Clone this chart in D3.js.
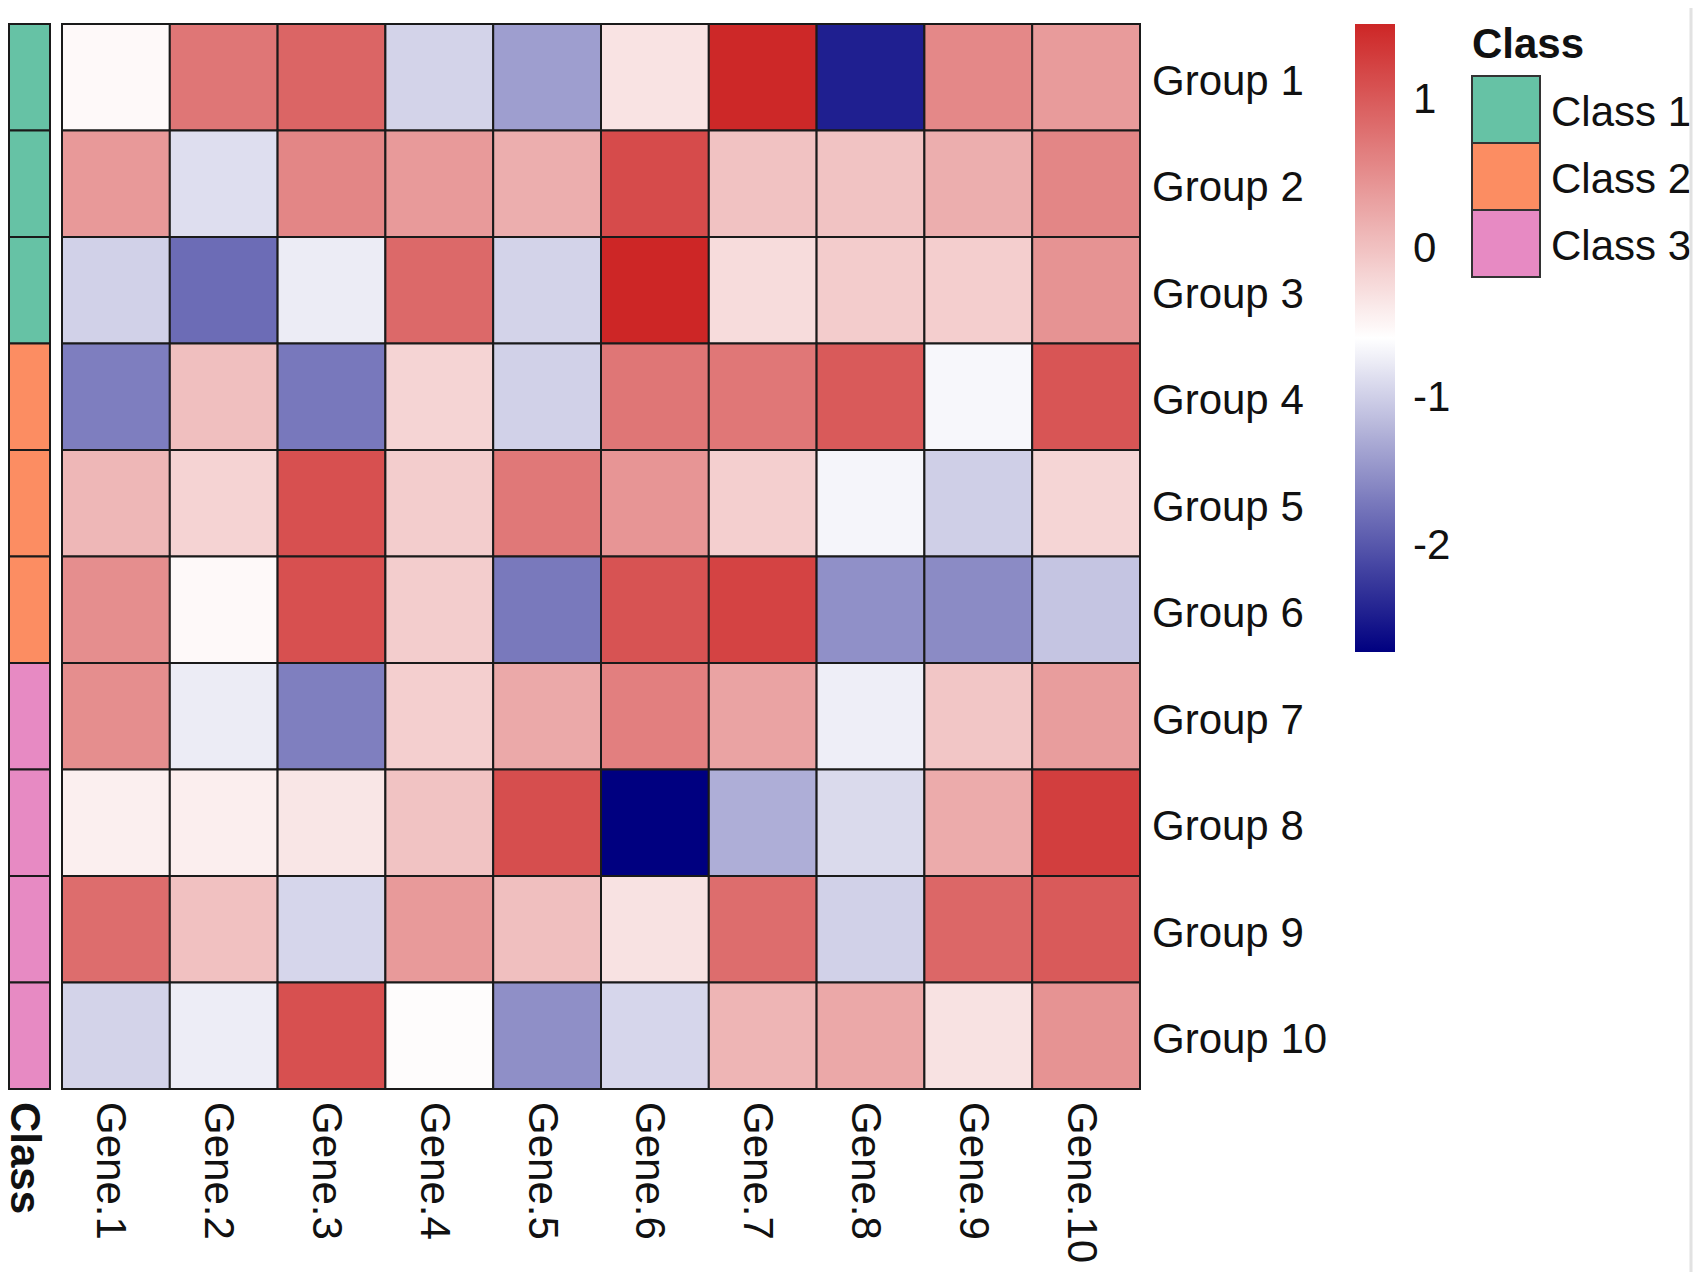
<!DOCTYPE html>
<html>
<head>
<meta charset="utf-8">
<script src="https://cdn.jsdelivr.net/npm/d3@7"></script>
<style>
  html, body { margin: 0; padding: 0; background: #fff; }
  svg { display: block; }
  text { font-family: "Liberation Sans", Arial, Helvetica, sans-serif; fill: #111; }
</style>
</head>
<body>
<svg id="chart" width="1705" height="1272"></svg>
<script>
// ---------- data ----------
const genes = ["Gene.1","Gene.2","Gene.3","Gene.4","Gene.5","Gene.6","Gene.7","Gene.8","Gene.9","Gene.10"];
const groups = ["Group 1","Group 2","Group 3","Group 4","Group 5","Group 6","Group 7","Group 8","Group 9","Group 10"];
const groupClass = ["Class 1","Class 1","Class 1","Class 2","Class 2","Class 2","Class 3","Class 3","Class 3","Class 3"];
const classNames = ["Class 1","Class 2","Class 3"];
const classColors = ["#66C2A5","#FC8D62","#E78AC3"];
// rows = groups, columns = genes
const values = [
  [-0.55, 0.72, 0.89, -0.97, -1.41, -0.34, 1.48, -2.46, 0.55, 0.36],
  [ 0.38, -0.88, 0.57, 0.37, 0.18, 1.14, -0.02, -0.03, 0.18, 0.57],
  [-0.99, -1.83, -0.77, 0.85, -0.97, 1.50, -0.27, -0.11, -0.13, 0.44],
  [-1.68, 0.01, -1.73, -0.19, -0.99, 0.72, 0.71, 0.99, -0.68, 1.04],
  [ 0.09, -0.18, 1.09, -0.12, 0.70, 0.42, -0.14, -0.69, -1.01, -0.20],
  [ 0.49, -0.55, 1.09, -0.12, -1.72, 1.06, 1.22, -1.53, -1.57, -1.09],
  [ 0.49, -0.77, -1.67, -0.14, 0.23, 0.63, 0.28, -0.75, -0.06, 0.34],
  [-0.45, -0.44, -0.37, -0.03, 1.11, -2.72, -1.28, -0.92, 0.21, 1.27],
  [ 0.81, -0.01, -0.95, 0.37, 0.01, -0.33, 0.81, -0.99, 0.87, 0.99],
  [-0.97, -0.76, 1.09, -0.58, -1.54, -0.95, 0.11, 0.24, -0.33, 0.44]
];
const legendTicks = [1, 0, -1, -2];
const legendTitle = "Class";
const annotationLabel = "Class";

// ---------- layout ----------
const svg = d3.select("#chart");
const heat = { left: 62, right: 1140, top: 24, bottom: 1089 };
const annot = { left: 9, right: 50 };
const fontSize = 42;
const borderColor = "#1a1a1a";

const x = d3.scaleBand().domain(genes).range([heat.left, heat.right]).padding(0);
const y = d3.scaleBand().domain(groups).range([heat.top, heat.bottom]).padding(0);

const all = values.flat();
const vmin = d3.min(all), vmax = d3.max(all);
const vmid = (vmin + vmax) / 2;
const color = d3.scaleLinear().domain([vmin, vmid, vmax])
  .range(["#000080", "#FFFFFF", "#CD2626"]).interpolate(d3.interpolateRgb);
const classColor = d3.scaleOrdinal().domain(classNames).range(classColors);

// ---------- heatmap cells ----------
const cells = [];
values.forEach((row, i) => row.forEach((v, j) => cells.push({ g: groups[i], gene: genes[j], v })));
svg.append("g").selectAll("rect").data(cells).join("rect")
  .attr("x", d => x(d.gene)).attr("y", d => y(d.g))
  .attr("width", x.bandwidth()).attr("height", y.bandwidth())
  .attr("fill", d => color(d.v))
  .attr("stroke", borderColor).attr("stroke-width", 2);

// ---------- annotation column ----------
svg.append("g").selectAll("rect").data(groups).join("rect")
  .attr("x", annot.left).attr("y", d => y(d))
  .attr("width", annot.right - annot.left).attr("height", y.bandwidth())
  .attr("fill", (d, i) => classColor(groupClass[i]))
  .attr("stroke", borderColor).attr("stroke-width", 2);

// ---------- row labels ----------
svg.append("g").selectAll("text").data(groups).join("text")
  .attr("x", heat.right + 12).attr("y", d => y(d) + y.bandwidth() / 2 + 3)
  .attr("dominant-baseline", "central")
  .attr("font-size", fontSize)
  .text(d => d);

// ---------- column labels ----------
const labY = heat.bottom + 13;
svg.append("g").selectAll("text").data(genes).join("text")
  .attr("transform", d => `translate(${x(d) + x.bandwidth() / 2 - 4},${labY}) rotate(90)`)
  .attr("dominant-baseline", "central")
  .attr("font-size", fontSize)
  .text(d => d);
svg.append("text")
  .attr("transform", `translate(${(annot.left + annot.right) / 2 - 4},${labY}) rotate(90)`)
  .attr("dominant-baseline", "central")
  .attr("font-size", fontSize).attr("font-weight", "bold")
  .text(annotationLabel);

// ---------- colour bar legend ----------
const cb = { x: 1355, w: 40, top: 24, bottom: 652 };
const cbScale = d3.scaleLinear().domain([vmin, vmax]).range([cb.bottom, cb.top]);
const defs = svg.append("defs");
const grad = defs.append("linearGradient").attr("id", "cbgrad")
  .attr("x1", 0).attr("y1", 1).attr("x2", 0).attr("y2", 0);
d3.range(0, 1.0001, 0.02).forEach(t => {
  grad.append("stop").attr("offset", t).attr("stop-color", color(vmin + t * (vmax - vmin)));
});
svg.append("rect").attr("x", cb.x).attr("y", cb.top)
  .attr("width", cb.w).attr("height", cb.bottom - cb.top)
  .attr("fill", "url(#cbgrad)");
svg.append("g").selectAll("text").data(legendTicks).join("text")
  .attr("x", cb.x + cb.w + 18).attr("y", d => cbScale(d))
  .attr("dominant-baseline", "central")
  .attr("font-size", fontSize)
  .text(d => d3.format("d")(d).replace("−", "-"));

// ---------- class legend ----------
defs.append("clipPath").attr("id", "rclip").append("rect")
  .attr("x", 0).attr("y", 0).attr("width", 1690).attr("height", 1272);
const lg = svg.append("g").attr("clip-path", "url(#rclip)");
const lgx = 1472, boxW = 68, boxH = 67, lgTop = 76;
lg.append("text").attr("x", lgx).attr("y", 58)
  .attr("font-size", fontSize).attr("font-weight", "bold").text(legendTitle);
const ly = d3.scaleBand().domain(classNames).range([lgTop, lgTop + boxH * classNames.length]);
lg.selectAll("rect.box").data(classNames).join("rect").attr("class", "box")
  .attr("x", lgx).attr("y", d => ly(d))
  .attr("width", boxW).attr("height", ly.bandwidth())
  .attr("fill", d => classColor(d))
  .attr("stroke", "#333").attr("stroke-width", 2);
lg.selectAll("text.lab").data(classNames).join("text").attr("class", "lab")
  .attr("x", lgx + boxW + 11).attr("y", d => ly(d) + ly.bandwidth() / 2 + 2)
  .attr("dominant-baseline", "central")
  .attr("font-size", fontSize).text(d => d);

// faint right edge line
svg.append("line").attr("x1", 1691).attr("x2", 1691).attr("y1", 8).attr("y2", 1272)
  .attr("stroke", "#e2e2e2").attr("stroke-width", 3);
</script>
</body>
</html>
